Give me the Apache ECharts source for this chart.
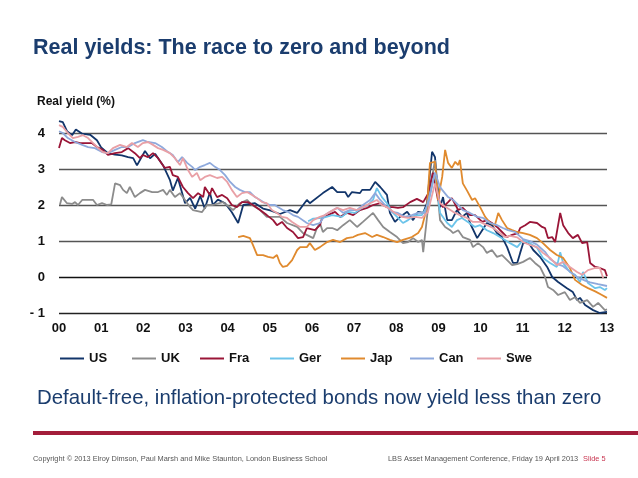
<!DOCTYPE html>
<html>
<head>
<meta charset="utf-8">
<script src="https://cdn.jsdelivr.net/npm/echarts@6/dist/echarts.min.js"></script>
<style>
html,body{margin:0;padding:0;background:#fff;}
#c{width:638px;height:478px;}
</style>
</head>
<body>
<div id="c"></div>
<script>
var xTicks = ['00','01','02','03','04','05','06','07','08','09','10','11','12','13'];
var yTicks = [-1,0,1,2,3,4];
var seriesNames = ['US','UK','Fra','Ger','Jap','Can','Swe'];
var seriesColors = ['#12356a','#8c8c8c','#9a1537','#6cc4ea','#e08a2e','#8ea9dc','#e9a0a6'];

var usData = [[0,4.33],[0.09,4.30],[0.19,4.05],[0.31,3.94],[0.40,4.10],[0.55,3.98],[0.74,3.95],[0.90,3.80],[1.0,3.60],[1.16,3.44],[1.33,3.40],[1.49,3.38],[1.64,3.33],[1.76,3.30],[1.85,3.10],[2.04,3.50],[2.16,3.30],[2.28,3.42],[2.47,3.10],[2.63,2.70],[2.70,2.40],[2.82,2.75],[2.99,2.05],[3.11,2.20],[3.23,1.90],[3.35,2.25],[3.46,1.90],[3.58,2.35],[3.65,2.00],[3.77,2.15],[3.94,2.05],[4.10,1.80],[4.25,1.50],[4.37,2.00],[4.65,2.05],[4.84,1.90],[5.01,1.85],[5.24,1.75],[5.48,1.86],[5.65,1.78],[5.88,2.14],[5.95,2.05],[6.26,2.33],[6.48,2.50],[6.60,2.36],[6.79,2.36],[6.86,2.22],[6.95,2.36],[7.14,2.33],[7.19,2.42],[7.38,2.42],[7.50,2.64],[7.62,2.50],[7.78,2.28],[7.85,1.78],[7.97,1.53],[8.09,1.67],[8.26,1.81],[8.40,1.58],[8.52,1.81],[8.64,1.78],[8.73,2.05],[8.85,3.48],[8.92,3.33],[8.97,2.60],[9.04,1.94],[9.11,2.22],[9.21,1.58],[9.32,1.58],[9.44,1.86],[9.56,1.67],[9.68,1.78],[9.75,1.50],[9.92,1.08],[10.04,1.30],[10.15,1.50],[10.27,1.44],[10.39,1.22],[10.51,1.11],[10.63,0.83],[10.77,0.39],[10.87,0.39],[10.94,0.67],[11.01,0.94],[11.13,0.97],[11.25,0.75],[11.41,0.56],[11.58,0.28],[11.70,0.0],[11.84,-0.14],[12.05,-0.31],[12.19,-0.42],[12.29,-0.64],[12.36,-0.58],[12.48,-0.78],[12.67,-0.92],[12.83,-1.0],[13.0,-0.97]];

var ukData = [[0.02,2.0],[0.07,2.22],[0.19,2.05],[0.31,2.03],[0.38,2.08],[0.45,2.0],[0.55,2.14],[0.69,2.14],[0.81,2.14],[0.90,2.0],[1.02,2.05],[1.14,2.0],[1.24,2.02],[1.33,2.6],[1.45,2.55],[1.52,2.42],[1.61,2.33],[1.68,2.5],[1.80,2.22],[1.92,2.33],[2.04,2.42],[2.21,2.36],[2.35,2.36],[2.47,2.42],[2.56,2.28],[2.63,2.42],[2.75,2.22],[2.87,2.33],[2.99,2.14],[3.11,1.94],[3.18,1.86],[3.39,1.80],[3.51,2.0],[3.65,2.0],[3.89,2.08],[4.13,1.86],[4.29,2.05],[4.46,2.14],[4.58,2.0],[4.77,1.86],[4.93,1.67],[5.24,1.67],[5.41,1.5],[5.65,1.39],[5.79,1.22],[6.03,1.08],[6.12,1.36],[6.19,1.5],[6.26,1.25],[6.36,1.36],[6.48,1.36],[6.60,1.3],[6.74,1.44],[6.90,1.58],[7.07,1.39],[7.21,1.53],[7.45,1.78],[7.57,1.58],[7.69,1.39],[7.85,1.25],[8.02,1.11],[8.16,0.94],[8.28,0.97],[8.40,1.08],[8.52,0.97],[8.61,1.03],[8.64,0.69],[8.80,2.42],[8.92,3.25],[8.99,2.22],[9.04,1.58],[9.16,1.39],[9.28,1.3],[9.35,1.22],[9.47,1.3],[9.58,1.11],[9.75,1.03],[9.82,0.83],[9.94,0.94],[10.06,0.83],[10.15,0.67],[10.27,0.75],[10.39,0.56],[10.51,0.61],[10.63,0.47],[10.75,0.33],[10.87,0.36],[11.01,0.42],[11.17,0.53],[11.29,0.39],[11.41,0.28],[11.53,0.0],[11.60,-0.28],[11.72,-0.36],[11.84,-0.5],[12.0,-0.42],[12.12,-0.64],[12.24,-0.56],[12.36,-0.72],[12.53,-0.64],[12.67,-0.83],[12.79,-0.72],[12.95,-0.92],[13.0,-0.9]];

var fraData = [[0,3.58],[0.07,3.86],[0.14,3.8],[0.26,3.72],[0.38,3.75],[0.50,3.72],[0.66,3.72],[0.78,3.72],[0.90,3.61],[1.04,3.53],[1.16,3.39],[1.33,3.44],[1.49,3.47],[1.64,3.58],[1.80,3.44],[1.92,3.3],[1.99,3.39],[2.11,3.33],[2.23,3.44],[2.35,3.3],[2.51,3.03],[2.63,3.06],[2.70,2.83],[2.82,2.78],[2.94,2.5],[3.06,2.33],[3.18,2.19],[3.30,2.33],[3.42,2.22],[3.46,2.5],[3.58,2.28],[3.63,2.47],[3.75,2.22],[3.87,2.28],[3.99,2.19],[4.10,2.0],[4.22,1.94],[4.34,2.08],[4.48,2.08],[4.60,2.0],[4.77,1.86],[4.93,1.72],[5.08,1.58],[5.17,1.44],[5.29,1.53],[5.41,1.36],[5.55,1.25],[5.67,1.08],[5.79,1.11],[5.88,1.36],[6.07,1.30],[6.19,1.44],[6.24,1.64],[6.38,1.72],[6.55,1.81],[6.67,1.67],[6.83,1.78],[6.98,1.72],[7.14,1.86],[7.31,1.92],[7.45,2.0],[7.62,2.05],[7.78,1.94],[7.92,1.94],[8.04,1.92],[8.16,1.94],[8.33,2.08],[8.49,2.17],[8.64,2.08],[8.75,2.3],[8.87,2.9],[8.99,2.14],[9.11,1.94],[9.23,2.08],[9.32,2.19],[9.47,1.86],[9.58,1.92],[9.75,1.72],[9.87,1.72],[10.04,1.53],[10.15,1.58],[10.27,1.5],[10.39,1.39],[10.51,1.25],[10.63,1.11],[10.75,1.17],[10.89,1.22],[10.94,1.36],[11.06,1.44],[11.17,1.53],[11.34,1.5],[11.46,1.39],[11.53,1.36],[11.60,1.08],[11.70,1.11],[11.77,0.97],[11.89,1.78],[11.96,1.44],[12.08,1.22],[12.19,1.08],[12.31,1.17],[12.41,0.94],[12.53,0.97],[12.60,0.39],[12.72,0.28],[12.83,0.25],[12.95,0.19],[13.0,0.02]];

var gerData = [[5.91,1.55],[6.03,1.62],[6.26,1.64],[6.48,1.72],[6.71,1.67],[6.86,1.81],[7.02,1.78],[7.19,1.92],[7.33,2.0],[7.45,2.14],[7.54,2.47],[7.66,2.22],[7.78,2.05],[7.90,1.81],[8.02,1.67],[8.16,1.5],[8.28,1.58],[8.45,1.72],[8.61,1.72],[8.75,2.0],[8.92,2.9],[9.04,1.78],[9.21,1.5],[9.32,1.39],[9.44,1.58],[9.56,1.64],[9.70,1.53],[9.87,1.39],[9.99,1.44],[10.15,1.3],[10.30,1.22],[10.46,1.11],[10.58,1.03],[10.70,0.94],[10.87,0.83],[11.01,1.03],[11.17,0.94],[11.34,0.81],[11.48,0.53],[11.65,0.39],[11.81,0.28],[11.89,0.69],[11.96,0.39],[12.12,0.14],[12.24,0.06],[12.36,-0.14],[12.43,0.14],[12.55,-0.17],[12.72,-0.31],[12.83,-0.28],[12.95,-0.36],[13.0,-0.31]];

var japData = [[4.25,1.11],[4.37,1.14],[4.53,1.08],[4.60,0.89],[4.70,0.61],[4.84,0.61],[4.96,0.56],[5.08,0.53],[5.17,0.61],[5.24,0.39],[5.31,0.28],[5.41,0.31],[5.53,0.47],[5.65,0.75],[5.72,0.83],[5.88,0.83],[5.95,0.94],[6.07,0.75],[6.19,0.83],[6.36,0.97],[6.50,1.03],[6.67,0.97],[6.83,1.08],[6.98,1.11],[7.09,1.17],[7.26,1.22],[7.43,1.11],[7.54,1.17],[7.69,1.11],[7.85,1.03],[8.02,0.97],[8.16,1.03],[8.37,1.11],[8.52,1.22],[8.61,1.39],[8.73,1.94],[8.80,3.17],[8.92,3.2],[8.99,2.14],[9.09,2.78],[9.16,3.53],[9.23,3.17],[9.32,3.03],[9.40,3.2],[9.47,3.11],[9.51,3.25],[9.58,2.6],[9.68,2.4],[9.80,2.14],[9.87,2.19],[9.99,1.94],[10.11,1.67],[10.23,1.5],[10.34,1.44],[10.42,1.78],[10.51,1.58],[10.63,1.36],[10.75,1.3],[10.87,1.25],[11.01,1.22],[11.17,1.17],[11.34,1.08],[11.48,0.94],[11.65,0.75],[11.81,0.61],[11.96,0.53],[12.12,0.25],[12.24,-0.08],[12.41,-0.22],[12.55,-0.31],[12.72,-0.4],[12.88,-0.5],[13.0,-0.58]];

var canData = [[0,4.05],[0.09,4.0],[0.21,3.86],[0.38,3.75],[0.55,3.67],[0.69,3.61],[0.85,3.58],[1.02,3.47],[1.16,3.44],[1.33,3.53],[1.49,3.61],[1.64,3.61],[1.80,3.72],[1.99,3.8],[2.11,3.75],[2.28,3.72],[2.44,3.61],[2.59,3.47],[2.70,3.39],[2.82,3.19],[2.92,3.33],[3.04,3.17],[3.16,3.06],[3.23,2.97],[3.35,3.06],[3.46,3.11],[3.58,3.17],[3.70,3.06],[3.82,2.97],[3.94,2.83],[4.06,2.64],[4.18,2.5],[4.29,2.42],[4.41,2.36],[4.53,2.36],[4.65,2.22],[4.77,2.14],[4.89,2.05],[5.01,2.0],[5.12,2.0],[5.20,1.94],[5.31,1.86],[5.43,1.81],[5.55,1.72],[5.67,1.67],[5.88,1.5],[6.03,1.44],[6.19,1.5],[6.31,1.72],[6.43,1.81],[6.60,1.92],[6.74,1.78],[6.90,1.86],[7.07,1.86],[7.21,2.0],[7.38,2.14],[7.50,2.33],[7.62,2.14],[7.78,1.94],[7.90,1.81],[8.04,1.78],[8.21,1.67],[8.37,1.72],[8.52,1.78],[8.68,1.78],[8.80,2.3],[8.92,2.9],[9.04,2.5],[9.09,2.42],[9.23,2.22],[9.35,2.14],[9.47,2.0],[9.58,1.86],[9.75,1.78],[9.92,1.67],[10.06,1.64],[10.23,1.5],[10.39,1.44],[10.53,1.36],[10.65,1.3],[10.82,1.25],[11.01,1.05],[11.17,1.0],[11.34,0.9],[11.53,0.7],[11.65,0.5],[11.84,0.35],[11.96,0.3],[12.12,0.15],[12.29,0.0],[12.48,-0.1],[12.60,-0.15],[12.79,-0.2],[13.0,-0.25]];

var sweData = [[0,4.22],[0.09,4.17],[0.21,4.0],[0.33,3.86],[0.45,3.89],[0.57,3.94],[0.69,3.86],[0.81,3.72],[0.93,3.58],[1.04,3.47],[1.16,3.44],[1.28,3.58],[1.45,3.67],[1.61,3.61],[1.73,3.72],[1.87,3.61],[1.99,3.72],[2.11,3.75],[2.23,3.67],[2.35,3.58],[2.47,3.53],[2.63,3.44],[2.75,3.3],[2.87,3.11],[2.94,3.3],[3.06,2.97],[3.16,2.78],[3.27,2.89],[3.35,2.69],[3.46,2.78],[3.58,2.83],[3.75,2.75],[3.87,2.78],[3.99,2.64],[4.10,2.42],[4.22,2.22],[4.34,2.33],[4.46,2.36],[4.58,2.28],[4.70,2.19],[4.82,2.08],[4.93,2.05],[5.05,1.86],[5.17,1.78],[5.29,1.67],[5.41,1.64],[5.53,1.53],[5.65,1.44],[5.72,1.39],[5.88,1.39],[6.03,1.58],[6.19,1.67],[6.31,1.72],[6.43,1.81],[6.60,1.92],[6.74,1.86],[6.90,1.92],[7.07,1.86],[7.21,1.94],[7.38,2.05],[7.54,2.14],[7.66,2.0],[7.81,1.92],[7.97,1.78],[8.14,1.67],[8.28,1.64],[8.45,1.67],[8.61,1.64],[8.75,1.8],[8.92,2.6],[9.04,2.05],[9.21,1.92],[9.35,1.81],[9.51,1.72],[9.68,1.64],[9.82,1.53],[9.99,1.53],[10.15,1.44],[10.30,1.36],[10.46,1.22],[10.58,1.11],[10.70,1.14],[10.87,1.1],[11.01,0.97],[11.17,0.89],[11.34,0.83],[11.48,0.67],[11.65,0.53],[11.81,0.33],[11.96,0.42],[12.12,0.28],[12.29,0.14],[12.41,0.06],[12.55,0.19],[12.72,0.25],[12.83,0.25],[12.91,-0.03]];

var allData = [usData, ukData, fraData, gerData, japData, canData, sweData];
var legendLeft = [55, 127, 195, 265, 336, 405, 472];

var FONT = "'Liberation Sans', Arial, Helvetica, sans-serif";
var chart = echarts.init(document.getElementById('c'), null, {renderer:'canvas'});

var series = seriesNames.map(function(n, i){
  return {
    name: n, type: 'line', data: allData[i], showSymbol: false, symbol: 'none',
    clip: false, z: 3,
    lineStyle: {color: seriesColors[i], width: 1.8},
    itemStyle: {color: seriesColors[i]}
  };
});

var legends = seriesNames.map(function(n, i){
  return {
    left: legendLeft[i], top: 347, icon: 'rect', itemWidth: 24, itemHeight: 2,
    data: [n], selectedMode: false,
    textStyle: {fontSize: 13, fontWeight: 'bold', color: '#111', fontFamily: FONT}
  };
});

chart.setOption({
  backgroundColor: '#ffffff',
  animation: false,
  textStyle: {fontFamily: FONT},
  grid: {left: 59, right: 31, top: 133, height: 180},
  xAxis: {
    type: 'value', min: 0, max: 13, interval: 1,
    axisLine: {show: false}, axisTick: {show: false}, splitLine: {show: false},
    axisLabel: {
      margin: 9, color: '#111', fontSize: 13, fontWeight: 'bold', fontFamily: FONT,
      formatter: function(v){ return xTicks[Math.round(v)]; }
    }
  },
  yAxis: {
    type: 'value', min: yTicks[0], max: yTicks[yTicks.length-1], interval: 1,
    axisLine: {show: false}, axisTick: {show: false},
    splitLine: {lineStyle: {color: ['#222','#111','#555','#555','#555','#555'], width: 1.3}},
    axisLabel: {margin: 14, color: '#111', fontSize: 13, fontWeight: 'bold', fontFamily: FONT,
      formatter: function(v){ return v < 0 ? '- ' + Math.abs(v) : String(v); }}
  },
  legend: legends,
  series: series,
  graphic: [
    {type: 'text', left: 33, top: 37, style: {text: 'Real yields: The race to zero and beyond', font: "bold 21.5px 'Liberation Sans', Arial, sans-serif", fill: '#1b3d6e'}},
    {type: 'text', left: 37, top: 96, style: {text: 'Real yield (%)', font: "bold 12px 'Liberation Sans', Arial, sans-serif", fill: '#111'}},
    {type: 'text', left: 37, top: 388, style: {text: 'Default-free, inflation-protected bonds now yield less than zero', font: "20.4px 'Liberation Sans', Arial, sans-serif", fill: '#1b3d6e'}},
    {type: 'rect', shape: {x: 33, y: 431, width: 605, height: 4}, style: {fill: '#a31d3a'}},
    {type: 'text', left: 33, top: 455, style: {text: 'Copyright \u00a9 2013 Elroy Dimson, Paul Marsh and Mike Staunton, London Business School', font: "7.4px 'Liberation Sans', Arial, sans-serif", fill: '#555'}},
    {type: 'text', left: 388, top: 455, style: {text: 'LBS Asset Management Conference, Friday 19 April 2013', font: "7.4px 'Liberation Sans', Arial, sans-serif", fill: '#555'}},
    {type: 'text', left: 583, top: 455, style: {text: 'Slide 5', font: "7.4px 'Liberation Sans', Arial, sans-serif", fill: '#c8344f'}}
  ]
});
</script>
</body>
</html>
